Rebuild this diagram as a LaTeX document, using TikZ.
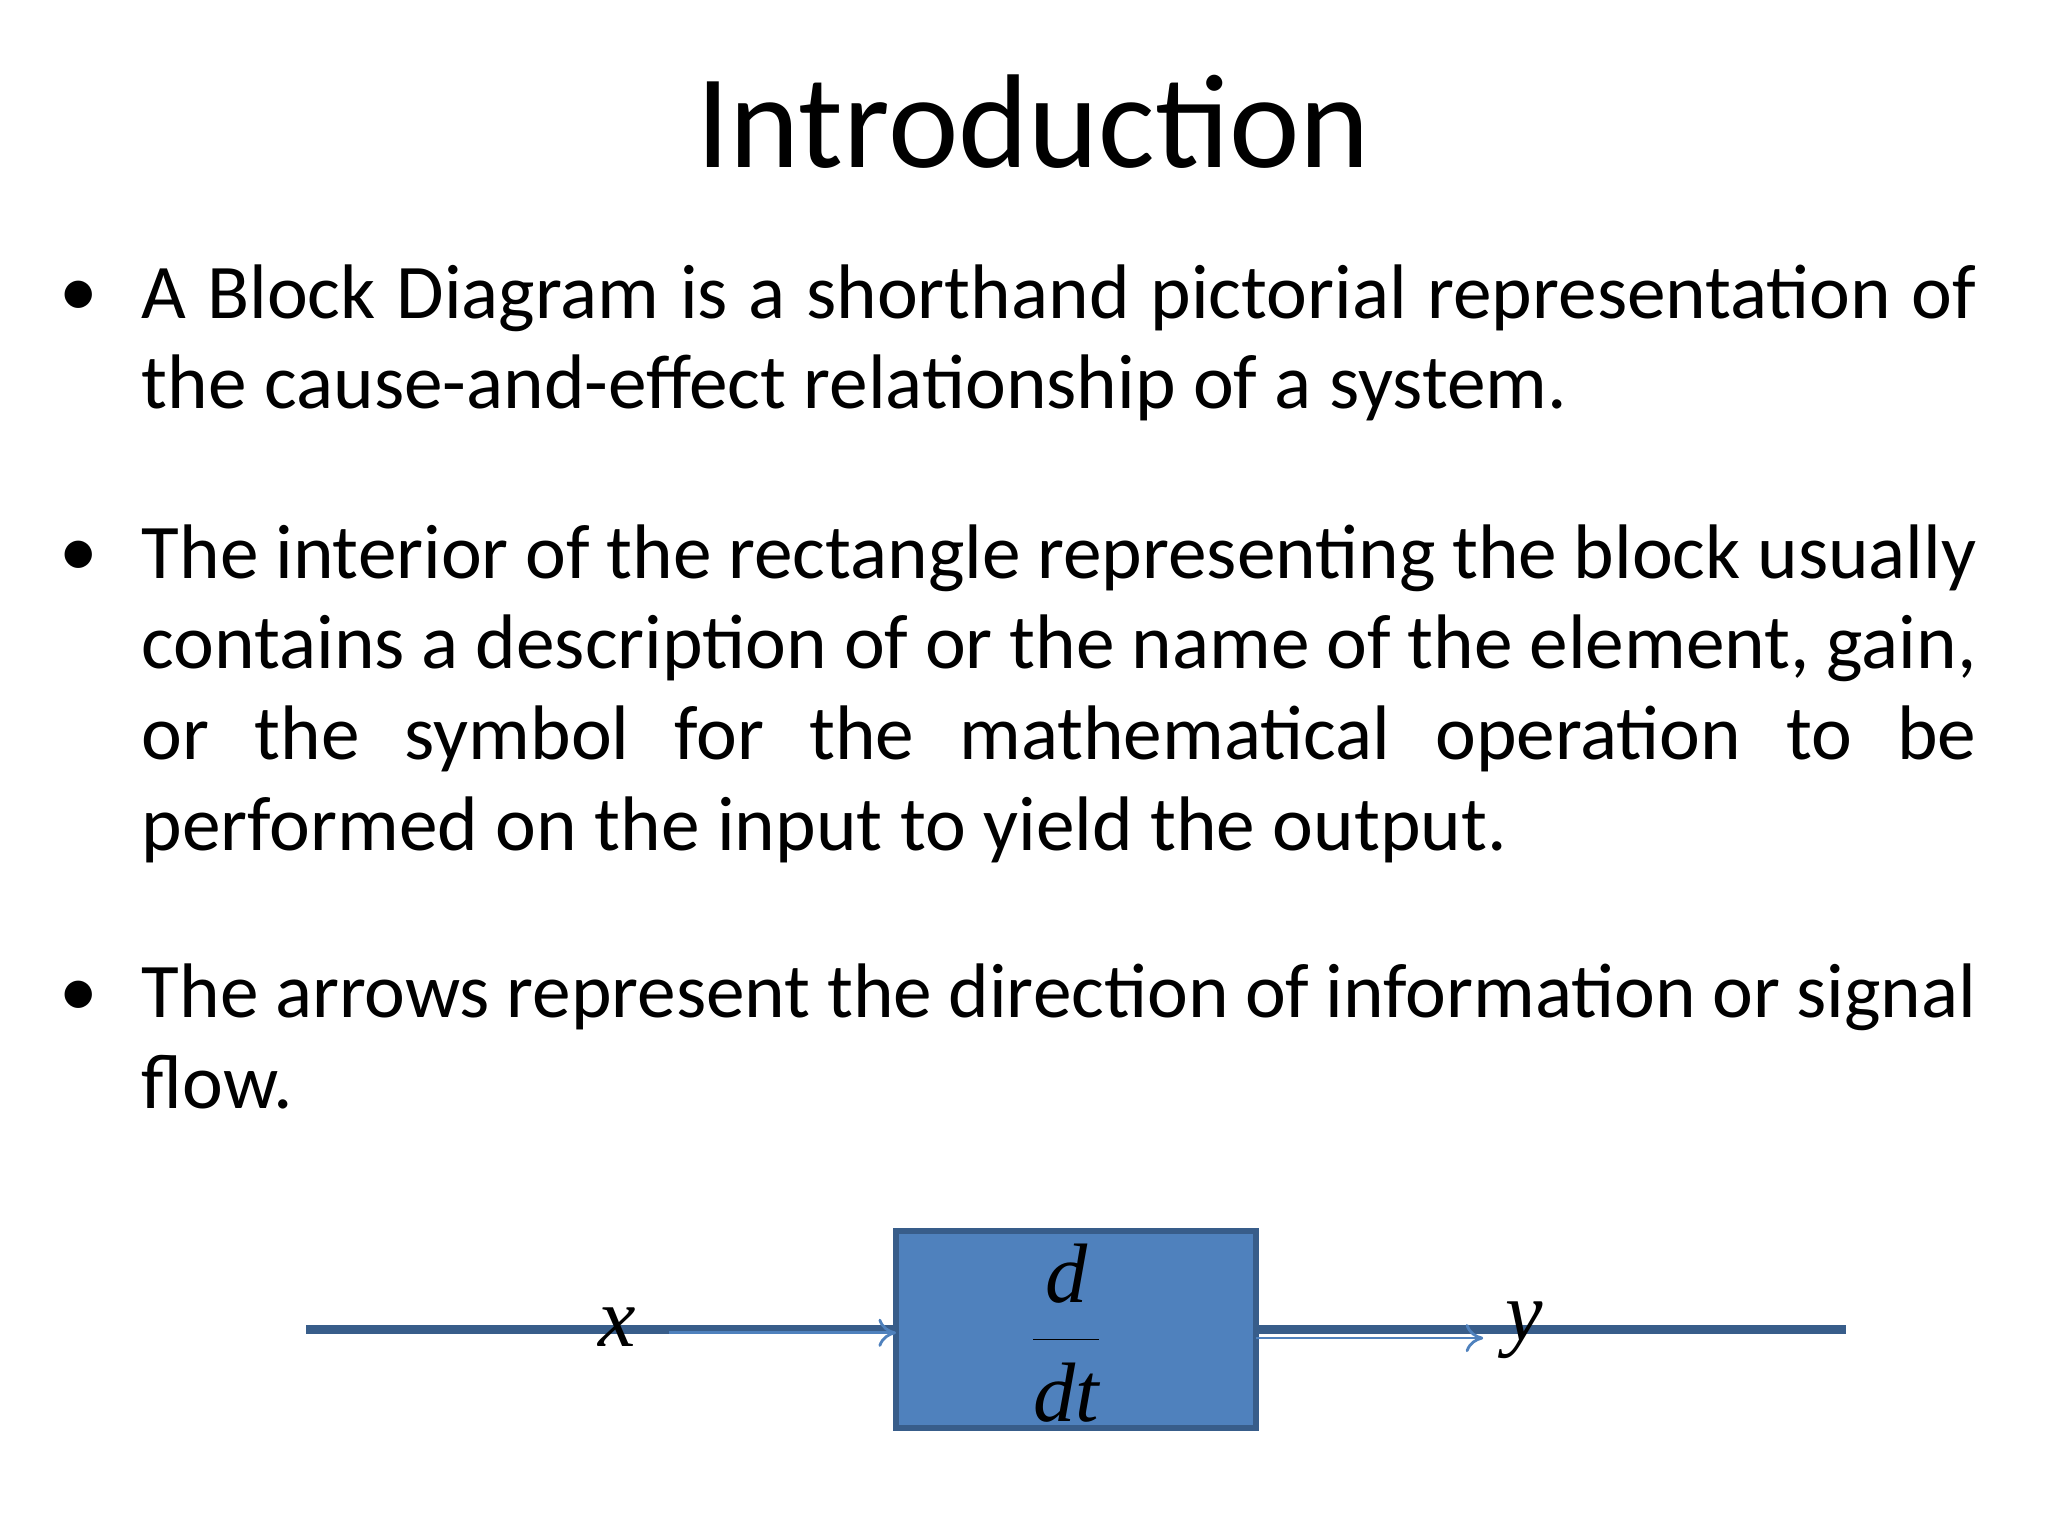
\documentclass[tikz,border=0pt]{standalone}
\usepackage{fontspec}
\setmainfont{Carlito}
\newfontfamily\tms{Liberation Serif}
\usetikzlibrary{arrows.meta}
\begin{document}
\begin{tikzpicture}[x=0.013196cm,y=-0.013196cm,
  body/.style={anchor=north west,inner sep=0pt,text width=18.35cm,align=justify,font=\fontsize{22}{25.8}\selectfont},
  bul/.style={anchor=base,inner sep=0pt,font=\fontsize{22}{25.8}\selectfont},
  lbl/.style={inner sep=0pt,font=\tms\itshape\fontsize{24}{28}\selectfont},
  sig/.style={draw={rgb,255:red,79;green,129;blue,189},line width=0.8pt,-{To[length=5pt,width=8pt]}}]
\useasboundingbox (0,0) rectangle (1552,1164);
\node[anchor=base,font=\fontsize{38}{40}\selectfont] (title) at (783,127) {Introduction};
\node[bul] (b1) at (60,240) {•};
\node[bul] (b2) at (60,437) {•};
\node[bul] (b3) at (60,770) {•};
\node[body] (p1) at (107,200) {A Block Diagram is a shorthand pictorial representation of\linebreak the cause-and-effect relationship of a system.};
\node[body] (p2) at (107,397) {The interior of the rectangle representing the block usually\linebreak contains a description of or the name of the element, gain,\linebreak or the symbol for the mathematical operation to be\linebreak performed on the input to yield the output.};
\node[body] (p3) at (107,730) {The arrows represent the direction of information or signal\newline flow.};
\node[draw={rgb,255:red,56;green,93;blue,138},line width=1.6pt,fill={rgb,255:red,79;green,129;blue,189},minimum width=273\pgflinewidth,inner sep=0pt] (blk) at (815.5,1007.5) {};
\path[draw={rgb,255:red,56;green,93;blue,138},line width=1.6pt,fill={rgb,255:red,79;green,129;blue,189}] (679,933) rectangle (952,1082);
\coordinate (bl) at (679,1010);
\coordinate (br) at (952,1014);
\node[lbl,font=\tms\itshape\fontsize{24}{28}\selectfont] (frac) at (808,1010) {$\displaystyle\frac{\textit{d}}{\textit{dt}}$};
\node[lbl] (x) at (468,1006) {x};
\node[lbl] (y) at (1155,1008) {y};
\coordinate (xs) at (507,1010);
\coordinate (ye) at (1124,1014);
\draw[sig] (xs) -- (bl);
\draw[sig] (br) -- (ye);
\end{tikzpicture}
\end{document}
